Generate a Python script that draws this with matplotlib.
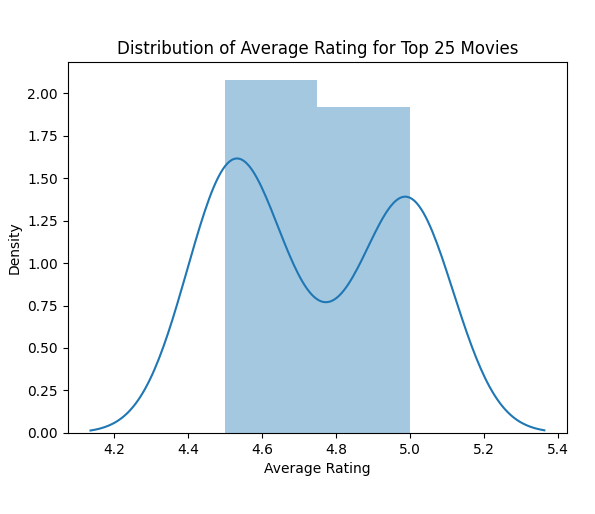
import matplotlib
matplotlib.use("Agg")
import matplotlib.pyplot as plt
import seaborn as sns
import numpy as np

rating_values = [4.5, 4.6, 4.8, 5.0]
rating_counts = [9, 4, 2, 10]
bin_edges = [4.5, 4.75, 5.0]

ratings = np.repeat(rating_values, rating_counts)

fig = plt.figure(figsize=(5.95, 5.14), dpi=100)
ax = fig.add_axes((0.114, 0.158, 0.839, 0.721))

ax.hist(ratings, bins=bin_edges, density=True, color="C0", alpha=0.4)
sns.kdeplot(x=ratings, ax=ax, color="C0", lw=1.5)

ax.set_title("Distribution of Average Rating for Top 25 Movies")
ax.set_xlabel("Average Rating")
ax.set_ylabel("Density")

fig.savefig("out.png", dpi=100)
